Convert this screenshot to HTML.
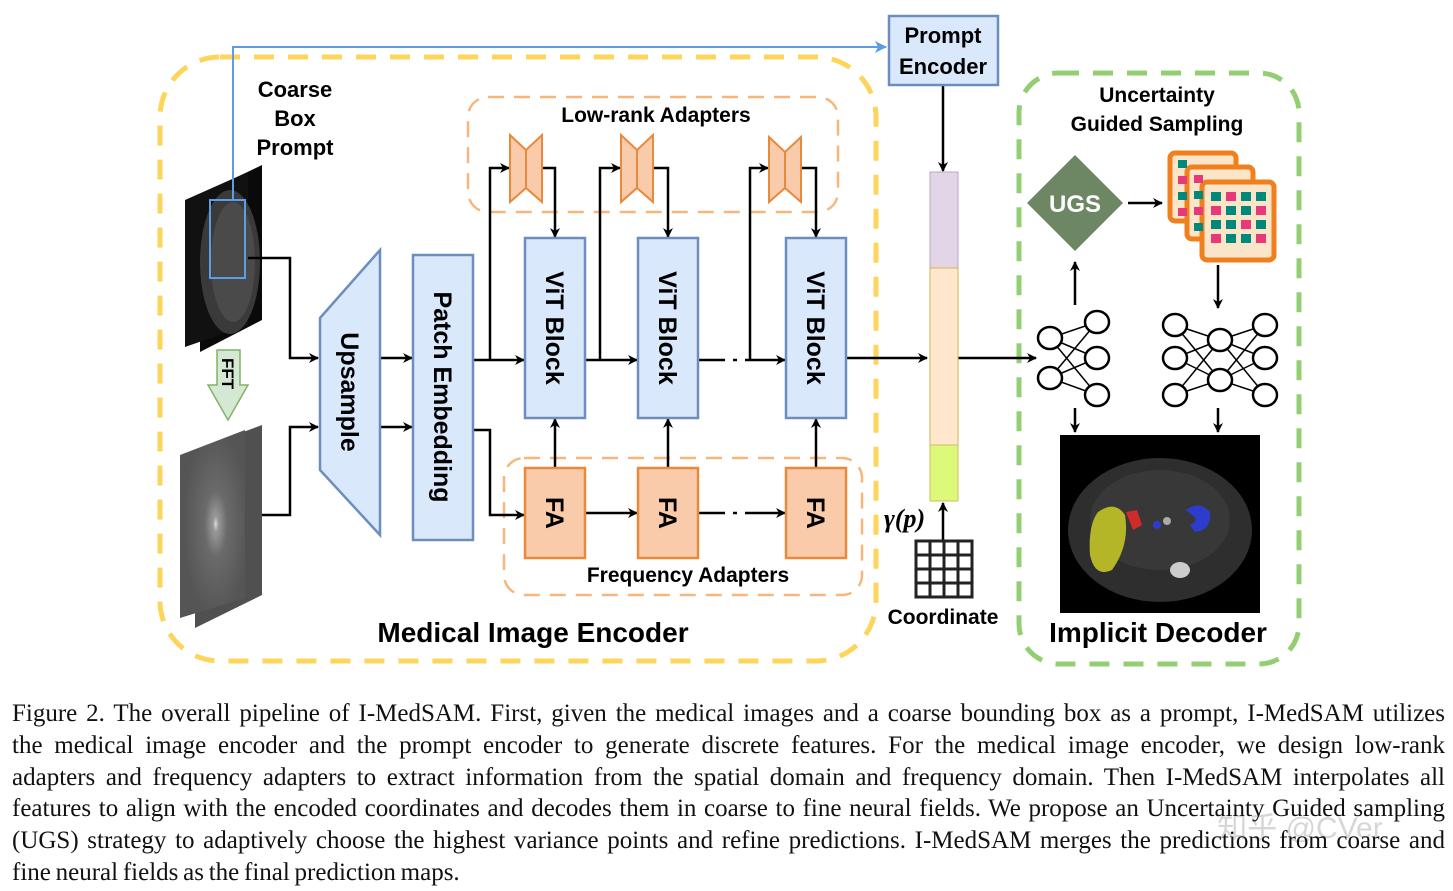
<!DOCTYPE html>
<html><head><meta charset="utf-8"><style>
html,body{margin:0;padding:0;background:#fff;}
body{width:1453px;height:891px;overflow:hidden;position:relative;}
svg{position:absolute;left:0;top:0;}
.cap{position:absolute;left:12px;top:698px;width:1433px;font-family:"Liberation Serif",serif;font-size:25px;word-spacing:-1.5px;line-height:31.8px;color:#111;}
.cap div{text-align:justify;text-align-last:justify;white-space:nowrap;overflow:visible;}
.cap div.l{text-align-last:left;}
.b{font-family:"Liberation Sans",sans-serif;font-weight:bold;fill:#000;}
</style></head><body>
<svg width="1453" height="891" viewBox="0 0 1453 891">
<defs>
<marker id="ar" markerWidth="10" markerHeight="10" refX="9" refY="5" orient="auto" markerUnits="userSpaceOnUse"><path d="M0,0 L10,5 L0,10 L3,5 z" fill="#000"/></marker>
<marker id="arb" markerWidth="12" markerHeight="12" refX="11" refY="6" orient="auto" markerUnits="userSpaceOnUse"><path d="M0,0 L12,6 L0,12 L3,6 z" fill="#5b9ee8"/></marker>
<radialGradient id="fg" cx="0.55" cy="0.5" r="0.5"><stop offset="0" stop-color="#ddd"/><stop offset="0.08" stop-color="#999"/><stop offset="0.35" stop-color="#6a6a6a"/><stop offset="1" stop-color="#555"/></radialGradient>
</defs>
<rect x="160" y="57" width="716" height="604" rx="60" fill="none" stroke="#fdd55a" stroke-width="5" stroke-dasharray="20,14"/>
<rect x="1019" y="73" width="280" height="591" rx="40" fill="none" stroke="#93cf72" stroke-width="5" stroke-dasharray="20,14"/>
<rect x="468" y="97" width="370" height="115" rx="20" fill="none" stroke="#f7b77c" stroke-width="2.5" stroke-dasharray="16,10"/>
<rect x="504" y="458" width="358" height="137" rx="20" fill="none" stroke="#f7b77c" stroke-width="2.5" stroke-dasharray="16,10"/>
<polygon points="200,195 262,165 262,320 200,352" fill="#0a0a0a"/>
<polygon points="185,200 248,172 248,325 185,347" fill="#111"/>
<ellipse cx="230" cy="262" rx="30" ry="72" fill="#3a3a3a"/>
<ellipse cx="233" cy="262" rx="22" ry="60" fill="#555" opacity="0.6"/>
<rect x="210" y="200" width="35" height="78" fill="none" stroke="#5b9ee8" stroke-width="2"/>
<polygon points="195,450 262,425 262,595 195,628" fill="#505050"/>
<polygon points="180,455 245,430 245,598 180,618" fill="url(#fg)"/>
<polygon points="217,350 240,350 240,385 248,385 228,420 208,385 217,385" fill="#d5e8d4" stroke="#82b366" stroke-width="1.5"/>
<text class="b" font-size="17" transform="translate(222,358) rotate(90)">FFT</text>
<polyline points="233,200 233,47 886,47" fill="none" stroke="#5b9ee8" stroke-width="2" marker-end="url(#arb)"/>
<text class="b" font-size="22" text-anchor="middle" x="295" y="97">Coarse</text>
<text class="b" font-size="22" text-anchor="middle" x="295" y="126">Box</text>
<text class="b" font-size="22" text-anchor="middle" x="295" y="155">Prompt</text>
<g fill="none" stroke="#000" stroke-width="2.5">
<polyline points="248,258 290,258 290,358 318,358" marker-end="url(#ar)"/>
<polyline points="262,515 290,515 290,427 318,427" marker-end="url(#ar)"/>
<line x1="380" y1="358" x2="412" y2="358" marker-end="url(#ar)"/>
<line x1="380" y1="427" x2="412" y2="427" marker-end="url(#ar)"/>
<line x1="473" y1="360" x2="524" y2="360" marker-end="url(#ar)"/>
<polyline points="490,360 490,168 509,168" marker-end="url(#ar)"/>
<polyline points="473,430 490,430 490,515 524,515" marker-end="url(#ar)"/>
<polyline points="542,168 555,168 555,237" marker-end="url(#ar)"/>
<line x1="585" y1="360" x2="637" y2="360" marker-end="url(#ar)"/>
<polyline points="600,360 600,168 620,168" marker-end="url(#ar)"/>
<polyline points="653,168 668,168 668,237" marker-end="url(#ar)"/>
<line x1="698" y1="360" x2="725" y2="360"/>
<line x1="733" y1="360" x2="737" y2="360"/>
<line x1="745" y1="360" x2="785" y2="360" marker-end="url(#ar)"/>
<polyline points="750,360 750,168 768,168" marker-end="url(#ar)"/>
<polyline points="801,168 816,168 816,237" marker-end="url(#ar)"/>
<line x1="555" y1="468" x2="555" y2="419" marker-end="url(#ar)"/>
<line x1="668" y1="468" x2="668" y2="419" marker-end="url(#ar)"/>
<line x1="816" y1="468" x2="816" y2="419" marker-end="url(#ar)"/>
<line x1="585" y1="513" x2="637" y2="513" marker-end="url(#ar)"/>
<line x1="698" y1="513" x2="725" y2="513"/>
<line x1="733" y1="513" x2="737" y2="513"/>
<line x1="745" y1="513" x2="785" y2="513" marker-end="url(#ar)"/>
<line x1="846" y1="358" x2="927" y2="358" marker-end="url(#ar)"/>
<line x1="943" y1="85" x2="943" y2="171" marker-end="url(#ar)"/>
<line x1="943" y1="540" x2="943" y2="503" marker-end="url(#ar)"/>
<line x1="958" y1="358" x2="1036" y2="358" marker-end="url(#ar)"/>
<line x1="1128" y1="203" x2="1162" y2="203" marker-end="url(#ar)"/>
<line x1="1218" y1="265" x2="1218" y2="308" marker-end="url(#ar)"/>
<line x1="1075" y1="305" x2="1075" y2="262" marker-end="url(#ar)"/>
<line x1="1075" y1="408" x2="1075" y2="432" marker-end="url(#ar)"/>
<line x1="1218" y1="408" x2="1218" y2="432" marker-end="url(#ar)"/>
</g>
<polygon points="320,318 380,250 380,535 320,470" fill="#dae8fc" stroke="#6c8ebf" stroke-width="2.5"/>
<text class="b" font-size="25" text-anchor="middle" transform="translate(341,392) rotate(90)">Upsample</text>
<rect x="413" y="255" width="60" height="285" fill="#dae8fc" stroke="#6c8ebf" stroke-width="2.5"/>
<text class="b" font-size="25" text-anchor="middle" transform="translate(434,397) rotate(90)">Patch Embedding</text>
<g fill="#dae8fc" stroke="#6c8ebf" stroke-width="2.5">
<rect x="525" y="238" width="60" height="180"/><rect x="638" y="238" width="60" height="180"/><rect x="786" y="238" width="60" height="180"/>
</g>
<text class="b" font-size="25" text-anchor="middle" transform="translate(546,328) rotate(90)">ViT Block</text>
<text class="b" font-size="25" text-anchor="middle" transform="translate(659,328) rotate(90)">ViT Block</text>
<text class="b" font-size="25" text-anchor="middle" transform="translate(807,328) rotate(90)">ViT Block</text>
<g fill="#f9cbaa" stroke="#e8893c" stroke-width="2.5">
<rect x="525" y="468" width="60" height="90"/><rect x="638" y="468" width="60" height="90"/><rect x="786" y="468" width="60" height="90"/>
</g>
<text class="b" font-size="25" text-anchor="middle" transform="translate(546,513) rotate(90)">FA</text>
<text class="b" font-size="25" text-anchor="middle" transform="translate(659,513) rotate(90)">FA</text>
<text class="b" font-size="25" text-anchor="middle" transform="translate(807,513) rotate(90)">FA</text>
<g fill="#f9cbaa" stroke="#e8893c" stroke-width="2">
<polygon points="510,135 526,150 526,188 510,202"/><polygon points="542,135 526,150 526,188 542,202"/>
<polygon points="621,135 637,150 637,188 621,202"/><polygon points="653,135 637,150 637,188 653,202"/>
<polygon points="769,137 785,152 785,188 769,202"/><polygon points="801,137 785,152 785,188 801,202"/>
</g>
<text class="b" font-size="21" text-anchor="middle" x="656" y="122">Low-rank Adapters</text>
<text class="b" font-size="21" text-anchor="middle" x="688" y="582">Frequency Adapters</text>
<text class="b" font-size="28" text-anchor="middle" x="533" y="642">Medical Image Encoder</text>
<rect x="889" y="16" width="109" height="69" fill="#dae8fc" stroke="#6c8ebf" stroke-width="2.5"/>
<text class="b" font-size="22" text-anchor="middle" x="943" y="43">Prompt</text>
<text class="b" font-size="22" text-anchor="middle" x="943" y="74">Encoder</text>
<rect x="930" y="172" width="28" height="96" fill="#e1d5e7" stroke="#b8a7c2" stroke-width="1"/>
<rect x="930" y="268" width="28" height="177" fill="#ffe6cc" stroke="#d6b656" stroke-width="1"/>
<rect x="930" y="445" width="28" height="56" fill="#dcf97a" stroke="#c8c060" stroke-width="1"/>
<text x="884" y="527" font-family="Liberation Serif,serif" font-style="italic" font-weight="bold" font-size="26">γ(p)</text>
<g fill="none" stroke="#222" stroke-width="3">
<rect x="916" y="541" width="56" height="56"/>
<line x1="930" y1="541" x2="930" y2="597"/><line x1="944" y1="541" x2="944" y2="597"/><line x1="958" y1="541" x2="958" y2="597"/>
<line x1="916" y1="555" x2="972" y2="555"/><line x1="916" y1="569" x2="972" y2="569"/><line x1="916" y1="583" x2="972" y2="583"/>
</g>
<text class="b" font-size="21" text-anchor="middle" x="943" y="624">Coordinate</text>
<text class="b" font-size="21" text-anchor="middle" x="1157" y="102">Uncertainty</text>
<text class="b" font-size="21" text-anchor="middle" x="1157" y="131">Guided Sampling</text>
<polygon points="1075,155 1123,203 1075,251 1027,203" fill="#6d8764"/>
<text x="1075" y="212" text-anchor="middle" font-family="Liberation Sans,sans-serif" font-weight="bold" font-size="24" fill="#fff">UGS</text>
<g stroke="#f07f1e" stroke-width="5" fill="#fbe5c8">
<rect x="1170" y="153" width="66" height="68" rx="5"/>
<rect x="1187" y="167" width="66" height="72" rx="5"/>
<rect x="1202" y="182" width="72" height="78" rx="5"/>
</g>
<g>
<rect x="1178" y="160" width="9" height="8" fill="#00897b"/><rect x="1178" y="176" width="9" height="8" fill="#e6397a"/><rect x="1178" y="192" width="9" height="8" fill="#00897b"/><rect x="1178" y="208" width="9" height="8" fill="#e6397a"/>
<rect x="1194" y="175" width="9" height="8" fill="#e6397a"/><rect x="1194" y="191" width="9" height="8" fill="#00897b"/><rect x="1194" y="207" width="9" height="8" fill="#e6397a"/><rect x="1194" y="223" width="9" height="8" fill="#00897b"/>
<rect x="1211" y="192" width="10" height="9" fill="#00897b"/><rect x="1226" y="192" width="10" height="9" fill="#e6397a"/><rect x="1241" y="192" width="10" height="9" fill="#00897b"/><rect x="1256" y="192" width="10" height="9" fill="#00897b"/>
<rect x="1211" y="206" width="10" height="9" fill="#e6397a"/><rect x="1226" y="206" width="10" height="9" fill="#00897b"/><rect x="1241" y="206" width="10" height="9" fill="#00897b"/><rect x="1256" y="206" width="10" height="9" fill="#e6397a"/>
<rect x="1211" y="220" width="10" height="9" fill="#00897b"/><rect x="1226" y="220" width="10" height="9" fill="#00897b"/><rect x="1241" y="220" width="10" height="9" fill="#e6397a"/><rect x="1256" y="220" width="10" height="9" fill="#00897b"/>
<rect x="1211" y="234" width="10" height="9" fill="#e6397a"/><rect x="1226" y="234" width="10" height="9" fill="#00897b"/><rect x="1241" y="234" width="10" height="9" fill="#00897b"/><rect x="1256" y="234" width="10" height="9" fill="#e6397a"/>
</g>
<g stroke="#000" stroke-width="1.5">
<line x1="1050" y1="338" x2="1097" y2="322"/><line x1="1050" y1="338" x2="1097" y2="358"/><line x1="1050" y1="338" x2="1097" y2="395"/>
<line x1="1050" y1="378" x2="1097" y2="322"/><line x1="1050" y1="378" x2="1097" y2="358"/><line x1="1050" y1="378" x2="1097" y2="395"/>
<line x1="1175" y1="325" x2="1220" y2="340"/><line x1="1175" y1="325" x2="1220" y2="380"/><line x1="1175" y1="358" x2="1220" y2="340"/><line x1="1175" y1="358" x2="1220" y2="380"/><line x1="1175" y1="395" x2="1220" y2="340"/><line x1="1175" y1="395" x2="1220" y2="380"/>
<line x1="1265" y1="325" x2="1220" y2="340"/><line x1="1265" y1="325" x2="1220" y2="380"/><line x1="1265" y1="358" x2="1220" y2="340"/><line x1="1265" y1="358" x2="1220" y2="380"/><line x1="1265" y1="395" x2="1220" y2="340"/><line x1="1265" y1="395" x2="1220" y2="380"/>
</g>
<g fill="#fff" stroke="#000" stroke-width="2.5">
<ellipse cx="1050" cy="338" rx="12" ry="11"/><ellipse cx="1050" cy="378" rx="12" ry="11"/>
<ellipse cx="1097" cy="322" rx="12" ry="11"/><ellipse cx="1097" cy="358" rx="12" ry="11"/><ellipse cx="1097" cy="395" rx="12" ry="11"/>
<ellipse cx="1175" cy="325" rx="12" ry="11"/><ellipse cx="1175" cy="358" rx="12" ry="11"/><ellipse cx="1175" cy="395" rx="12" ry="11"/>
<ellipse cx="1220" cy="340" rx="12" ry="11"/><ellipse cx="1220" cy="380" rx="12" ry="11"/>
<ellipse cx="1265" cy="325" rx="12" ry="11"/><ellipse cx="1265" cy="358" rx="12" ry="11"/><ellipse cx="1265" cy="395" rx="12" ry="11"/>
</g>
<rect x="1060" y="435" width="200" height="178" fill="#000"/>
<ellipse cx="1160" cy="530" rx="92" ry="72" fill="#2e2e2e"/>
<ellipse cx="1160" cy="520" rx="70" ry="50" fill="#383838"/>
<path d="M1098,512 Q1115,500 1125,515 Q1130,545 1112,570 Q1095,578 1090,555 Q1088,525 1098,512z" fill="#b5b528"/>
<path d="M1126,512 L1137,510 L1142,525 L1133,530 Z" fill="#d02a2a"/>
<path d="M1186,510 Q1200,500 1210,512 Q1212,530 1195,532 L1190,525 Q1200,520 1192,515 Z" fill="#2d3ccc"/>
<circle cx="1157" cy="525" r="4" fill="#2d3ccc"/><circle cx="1167" cy="521" r="4" fill="#aaa"/>
<ellipse cx="1180" cy="570" rx="10" ry="8" fill="#ccc"/>
<text class="b" font-size="28" text-anchor="middle" x="1158" y="642">Implicit Decoder</text>
<text x="1300" y="838" font-family="Liberation Sans,'Noto Sans CJK SC',sans-serif" font-size="30" fill="#bbb" opacity="0.6" text-anchor="middle">知乎 @CVer</text>
</svg>
<div class="cap">
<div>Figure 2. The overall pipeline of I-MedSAM. First, given the medical images and a coarse bounding box as a prompt, I-MedSAM utilizes</div>
<div>the medical image encoder and the prompt encoder to generate discrete features.  For the medical image encoder, we design low-rank</div>
<div>adapters and frequency adapters to extract information from the spatial domain and frequency domain. Then I-MedSAM interpolates all</div>
<div>features to align with the encoded coordinates and decodes them in coarse to fine neural fields. We propose an Uncertainty Guided sampling</div>
<div>(UGS) strategy to adaptively choose the highest variance points and refine predictions. I-MedSAM merges the predictions from coarse and</div>
<div class="l">fine neural fields as the final prediction maps.</div>
</div>
</body></html>
